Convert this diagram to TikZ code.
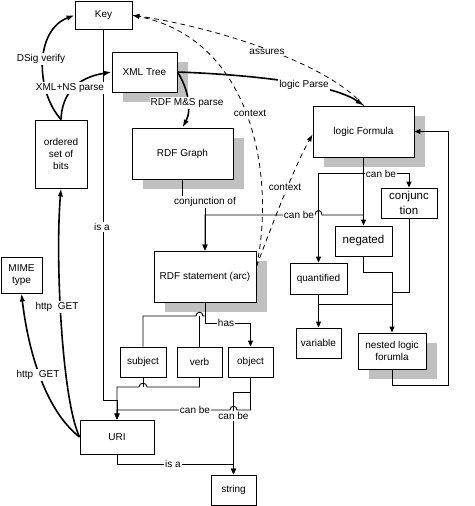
\documentclass[tikz,border=0pt]{standalone}
\usepackage{fontspec}
\setmainfont{Liberation Sans}
\usetikzlibrary{arrows.meta}
\pgfdeclarelayer{background}
\pgfsetlayers{background,main}
\definecolor{shadowgray}{RGB}{192,192,192}
\begin{document}
\begin{tikzpicture}[x=1pt,y=-1pt,
 box/.style={draw, fill=white, line width=0.9pt, inner sep=0pt, align=center, font=\fontsize{10}{12}\selectfont},
 bigtxt/.style={font=\fontsize{11.5}{15}\selectfont},
 conn/.style={line width=0.9pt},
 tri/.style={-{Triangle[length=6pt,width=5pt]}},
 heavy/.style={line width=1.6pt, -{Latex[length=8pt,width=5.5pt]}},
 dsh/.style={line width=0.8pt, dash pattern=on 5pt off 4pt, -{Latex[length=7pt,width=5pt]}},
 lbl/.style={fill=white, inner sep=1pt, font=\fontsize{10}{12}\selectfont},
]
\useasboundingbox (0,0) rectangle (474,506);

% boxes
\node[box, minimum width=57pt, minimum height=27.5pt] (key) at (103.5,15.25) {Key};
\node[box, minimum width=65pt, minimum height=40pt] (xml) at (144.5,72) {XML Tree};
\node[box, minimum width=52pt, minimum height=68pt] (bits) at (61,154) {ordered\\set of\\bits};
\node[box, minimum width=101pt, minimum height=51pt] (graph) at (182.5,153.5) {RDF Graph};
\node[box, minimum width=101pt, minimum height=51pt] (logic) at (363.5,131.5) {logic Formula};
\node[box, minimum width=41pt, minimum height=36pt] (mime) at (21.5,275) {MIME\\type};
\node[box, minimum width=102pt, minimum height=51pt] (stmt) at (205,276.5) {RDF statement (arc)};
\node[box, bigtxt, minimum width=56pt, minimum height=30pt] (conj) at (409,203) {conjunc\\tion};
\node[box, bigtxt, minimum width=57pt, minimum height=30pt] (neg) at (363.5,241) {negated};
\node[box, minimum width=57pt, minimum height=31pt] (quant) at (318.5,278.5) {quantified};
\node[box, minimum width=46pt, minimum height=30pt] (subj) at (143,362) {subject};
\node[box, minimum width=45pt, minimum height=30pt] (verb) at (199.5,362) {verb};
\node[box, minimum width=45pt, minimum height=30pt] (obj) at (250.5,362) {object};
\node[box, minimum width=74pt, minimum height=34pt] (uri) at (117,437) {URI};
\node[box, minimum width=45pt, minimum height=30pt] (str) at (233.5,490) {string};
\node[box, minimum width=45pt, minimum height=30pt] (var) at (318.5,343) {variable};
\node[box, minimum width=68pt, minimum height=36pt] (nested) at (392,351) {nested logic\\forumla};

% shadows
\begin{pgfonlayer}{background}
\foreach \n in {xml,graph,logic,stmt,nested}{
  \fill[shadowgray] ([shift={(11,10)}]\n.south west) rectangle ([shift={(11,10)}]\n.north east);
}
\end{pgfonlayer}

% junction coordinates
\coordinate (j1) at (363.5,173);
\coordinate (j2) at (363.5,215);

% heavy curved arrows
\draw[heavy] (bits.north) .. controls (35,90) and (35,30) .. (key.west);
\draw[heavy] (bits.north) .. controls (62,95) and (75,78) .. (xml.west);
\draw[heavy] (xml.east) .. controls (188,88) and (192,110) .. (graph.north);
\draw[heavy] (xml.east) .. controls (260,75) and (335,85) .. (logic.north);
\draw[heavy] (uri.west) .. controls (62,400) and (55,260) .. (bits.south);
\draw[heavy] (uri.west) .. controls (45,410) and (28,350) .. (mime.south);

% dashed arrows
\draw[dsh] (logic.north) .. controls (330,65) and (220,28) .. (key.east);
\draw[dsh] ([shift={(0,-10)}]stmt.east) .. controls (275,180) and (255,40) .. (key.east);
\draw[dsh] ([shift={(0,-10)}]stmt.east) .. controls (272,225) and (295,165) .. ([shift={(0,3)}]logic.west);

% Key is a URI
\draw[conn,tri] (key.south) |- (117,400) -- (uri.north);

% RDF Graph -> statement
\draw[conn,tri] (graph.south) |- (205,202) -- (stmt.north);

% logic formula tree
\draw[conn,tri] (logic.south) -- (neg.north);
\draw[conn,tri] (j1) -| (quant.north);
\draw[conn,tri] (j1) -| (conj.north);
\draw[conn,tri] (j2) -- (322,215) .. controls (322,209) and (315,209) .. (315,215) -- (205,215) -- (stmt.north);
\draw[conn,tri] (neg.south) |- (392,272) -- (nested.north);
\draw[conn] (conj.south) |- (392,292);
\draw[conn,tri] (quant.south) -- (var.north);
\draw[conn] (quant.south) |- (392,304);
\draw[conn,tri] (nested.south) |- (448,385) |- (logic.east);

% statement has subject/verb/object
\draw[conn,tri] (stmt.south) |- (250.5,323) -- (obj.north);
\draw[conn] (subj.north) |- (196,316) .. controls (196,311) and (203,311) .. (203,316) -- (205,316);
\draw[conn] (verb.north) -- (199.5,316);

% subject / verb -> URI
\draw[conn] (subj.south) -- (143,387);
\draw[conn,tri] (verb.south) |- (147,387) .. controls (147,382) and (139,382) .. (139,387) -- (117,387) -- (uri.north);

% object can be URI / string
\draw[conn,tri] (obj.south) |- (237,410) .. controls (237,405) and (230,405) .. (230,410) -- (117,410) -- (uri.north);
\draw[conn,tri] (obj.south) |- (233.5,392) -- (str.north);

% URI is a string
\draw[conn,tri] (uri.south) |- (233.5,464) -- (str.north);

% labels
\node[lbl] (l1) at (41,59) {DSig verify};
\node[lbl] (l2) at (70,88) {XML+NS parse};
\node[lbl] (l3) at (187,103) {RDF M\&S parse};
\node[lbl] (l4) at (304,85) {logic Parse};
\node[lbl] (l5) at (267,52) {assures};
\node[lbl] (l6) at (250,113) {context};
\node[lbl] (l7) at (285,187) {context};
\node[lbl] (l8) at (205,202) {conjunction of};
\node[lbl] (l9) at (381,174) {can be};
\node[lbl] (l10) at (299,215) {can be};
\node[lbl] (l11) at (102,227) {is a};
\node[lbl] (l12) at (57,307) {http\ \ GET};
\node[lbl] (l13) at (38,375) {http\ \ GET};
\node[lbl] (l14) at (226,323) {has};
\node[lbl] (l15) at (195,410) {can be};
\node[lbl] (l16) at (233.5,416) {can be};
\node[lbl] (l17) at (173,464) {is a};
\end{tikzpicture}
\end{document}
